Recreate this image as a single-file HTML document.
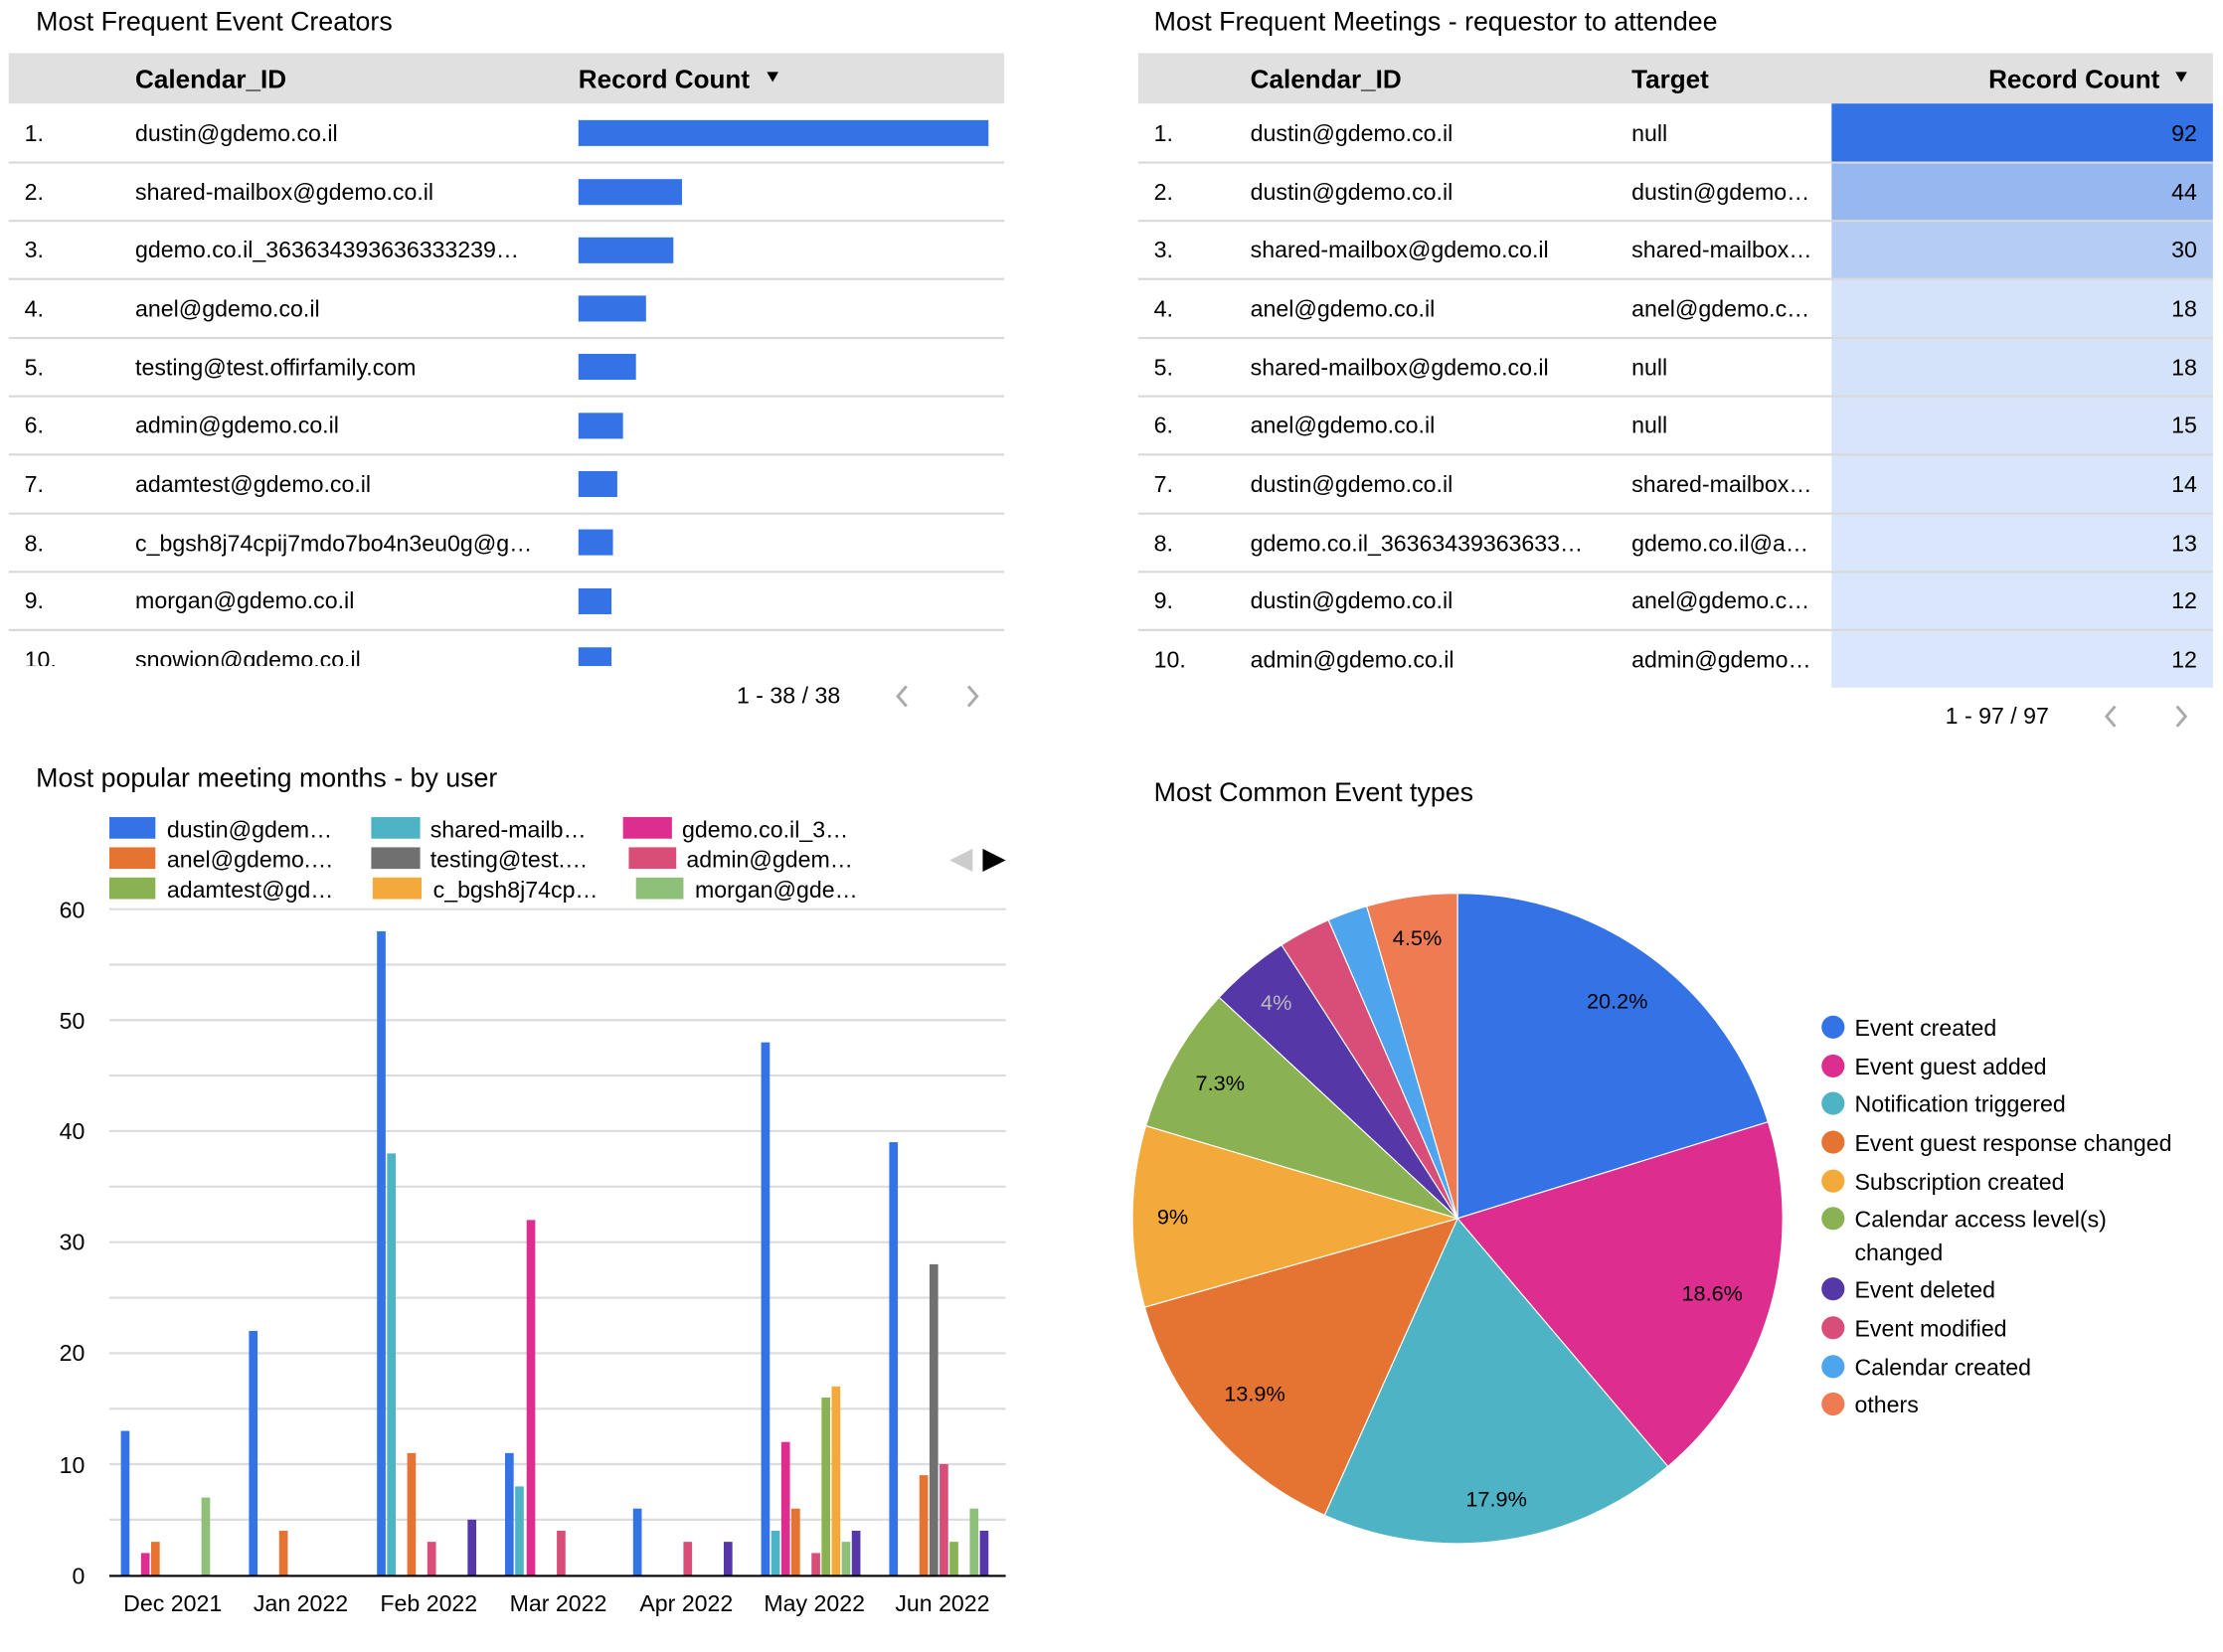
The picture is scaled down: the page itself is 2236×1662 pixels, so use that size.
<!DOCTYPE html>
<html><head><meta charset="utf-8"><style>
html,body{margin:0;padding:0;background:#fff;width:2236px;height:1662px;overflow:hidden}
svg text{font-family:"Liberation Sans",sans-serif;fill:#000}
</style></head><body>
<svg width="2236" height="1662" viewBox="0 0 1545 1148.4" xmlns="http://www.w3.org/2000/svg">
<rect width="1545" height="1149" fill="#fff"/>
<!-- LEFT TABLE -->
<text x="25" y="21" font-size="18.5">Most Frequent Event Creators</text>
<rect x="6" y="37" width="692" height="35" fill="#e0e0e0"/>
<text x="94" y="61" font-size="18" font-weight="bold">Calendar_ID</text>
<text x="402" y="61" font-size="18" font-weight="bold">Record Count</text>
<path d="M533 50 L541 50 L537 57 Z" fill="#000"/>
<g stroke="#d9d9d9" stroke-width="1.5">
<line x1="6" x2="698" y1="113" y2="113"/><line x1="6" x2="698" y1="153.5" y2="153.5"/><line x1="6" x2="698" y1="194" y2="194"/><line x1="6" x2="698" y1="235" y2="235"/><line x1="6" x2="698" y1="275.5" y2="275.5"/><line x1="6" x2="698" y1="316" y2="316"/><line x1="6" x2="698" y1="357" y2="357"/><line x1="6" x2="698" y1="397.5" y2="397.5"/><line x1="6" x2="698" y1="438" y2="438"/>
</g>
<g font-size="16">
<text x="17" y="98">1.</text><text x="94" y="98">dustin@gdemo.co.il</text>
<text x="17" y="139">2.</text><text x="94" y="139">shared-mailbox@gdemo.co.il</text>
<text x="17" y="179">3.</text><text x="94" y="179">gdemo.co.il_363634393636333239…</text>
<text x="17" y="220">4.</text><text x="94" y="220">anel@gdemo.co.il</text>
<text x="17" y="261">5.</text><text x="94" y="261">testing@test.offirfamily.com</text>
<text x="17" y="301">6.</text><text x="94" y="301">admin@gdemo.co.il</text>
<text x="17" y="342">7.</text><text x="94" y="342">adamtest@gdemo.co.il</text>
<text x="17" y="383">8.</text><text x="94" y="383">c_bgsh8j74cpij7mdo7bo4n3eu0g@g…</text>
<text x="17" y="423">9.</text><text x="94" y="423">morgan@gdemo.co.il</text>
<text x="17" y="464">10.</text><text x="94" y="464">snowion@gdemo.co.il</text>
</g>
<rect x="0" y="463" width="700" height="10" fill="#fff"/>
<g fill="#3373e6">
<rect x="402" y="83.5" width="285" height="18"/><rect x="402" y="124.5" width="72" height="18"/><rect x="402" y="165" width="66" height="18"/><rect x="402" y="205.5" width="47" height="18"/><rect x="402" y="246" width="40" height="18"/><rect x="402" y="287" width="31" height="18"/><rect x="402" y="327.5" width="27" height="18"/><rect x="402" y="368" width="24" height="18"/><rect x="402" y="409" width="23" height="18"/><rect x="402" y="450" width="23" height="13"/>
</g>
<text x="512" y="489" font-size="16">1 - 38 / 38</text>
<path d="M630 477 L624 484 L630 491" stroke="#aaa" stroke-width="2" fill="none"/>
<path d="M673 477 L679 484 L673 491" stroke="#aaa" stroke-width="2" fill="none"/>

<!-- RIGHT TABLE -->
<text x="802" y="21" font-size="18.5">Most Frequent Meetings - requestor to attendee</text>
<rect x="791" y="37" width="747" height="35" fill="#e0e0e0"/>
<text x="869" y="61" font-size="18" font-weight="bold">Calendar_ID</text>
<text x="1134" y="61" font-size="18" font-weight="bold">Target</text>
<text x="1501" y="61" font-size="18" font-weight="bold" text-anchor="end">Record Count</text>
<path d="M1512 50 L1520 50 L1516 57 Z" fill="#000"/>
<rect x="1273" y="72" width="265" height="41" fill="#3373e6"/>
<rect x="1273" y="113" width="265" height="41" fill="#97b7f1"/>
<rect x="1273" y="154" width="265" height="40" fill="#b5cdf5"/>
<rect x="1273" y="194" width="265" height="41" fill="#d4e2fa"/>
<rect x="1273" y="235" width="265" height="41" fill="#d4e2fa"/>
<rect x="1273" y="276" width="265" height="40" fill="#d7e4fa"/>
<rect x="1273" y="316" width="265" height="41" fill="#d8e5fb"/>
<rect x="1273" y="357" width="265" height="41" fill="#d9e6fb"/>
<rect x="1273" y="398" width="265" height="40" fill="#dae6fb"/>
<rect x="1273" y="438" width="265" height="40" fill="#dae6fb"/>
<g stroke="#d9d9d9" stroke-width="1.5">
<line x1="791" x2="1538" y1="113" y2="113"/><line x1="791" x2="1538" y1="153.5" y2="153.5"/><line x1="791" x2="1538" y1="194" y2="194"/><line x1="791" x2="1538" y1="235" y2="235"/><line x1="791" x2="1538" y1="275.5" y2="275.5"/><line x1="791" x2="1538" y1="316" y2="316"/><line x1="791" x2="1538" y1="357" y2="357"/><line x1="791" x2="1538" y1="397.5" y2="397.5"/><line x1="791" x2="1538" y1="438" y2="438"/>
</g>
<g font-size="16">
<text x="802" y="98">1.</text><text x="869" y="98">dustin@gdemo.co.il</text><text x="1134" y="98">null</text><text x="1527" y="98" text-anchor="end" style="fill:#000">92</text>
<text x="802" y="139">2.</text><text x="869" y="139">dustin@gdemo.co.il</text><text x="1134" y="139">dustin@gdemo…</text><text x="1527" y="139" text-anchor="end">44</text>
<text x="802" y="179">3.</text><text x="869" y="179">shared-mailbox@gdemo.co.il</text><text x="1134" y="179">shared-mailbox…</text><text x="1527" y="179" text-anchor="end">30</text>
<text x="802" y="220">4.</text><text x="869" y="220">anel@gdemo.co.il</text><text x="1134" y="220">anel@gdemo.c…</text><text x="1527" y="220" text-anchor="end">18</text>
<text x="802" y="261">5.</text><text x="869" y="261">shared-mailbox@gdemo.co.il</text><text x="1134" y="261">null</text><text x="1527" y="261" text-anchor="end">18</text>
<text x="802" y="301">6.</text><text x="869" y="301">anel@gdemo.co.il</text><text x="1134" y="301">null</text><text x="1527" y="301" text-anchor="end">15</text>
<text x="802" y="342">7.</text><text x="869" y="342">dustin@gdemo.co.il</text><text x="1134" y="342">shared-mailbox…</text><text x="1527" y="342" text-anchor="end">14</text>
<text x="802" y="383">8.</text><text x="869" y="383">gdemo.co.il_36363439363633…</text><text x="1134" y="383">gdemo.co.il@a…</text><text x="1527" y="383" text-anchor="end">13</text>
<text x="802" y="423">9.</text><text x="869" y="423">dustin@gdemo.co.il</text><text x="1134" y="423">anel@gdemo.c…</text><text x="1527" y="423" text-anchor="end">12</text>
<text x="802" y="464">10.</text><text x="869" y="464">admin@gdemo.co.il</text><text x="1134" y="464">admin@gdemo…</text><text x="1527" y="464" text-anchor="end">12</text>
</g>
<text x="1352" y="503" font-size="16">1 - 97 / 97</text>
<path d="M1470 491 L1464 498 L1470 505" stroke="#aaa" stroke-width="2" fill="none"/>
<path d="M1513 491 L1519 498 L1513 505" stroke="#aaa" stroke-width="2" fill="none"/>

<!-- BAR CHART -->
<text x="25" y="547" font-size="18.5">Most popular meeting months - by user</text>
<g font-size="16">
<rect x="76" y="568" width="32" height="15" fill="#3373e6"/><text x="116" y="582">dustin@gdem…</text>
<rect x="76" y="589" width="32" height="15" fill="#e57332"/><text x="116" y="603">anel@gdemo.…</text>
<rect x="76" y="610" width="32" height="15" fill="#8ab253"/><text x="116" y="624">adamtest@gd…</text>
<rect x="258" y="568" width="34" height="15" fill="#4fb3c6"/><text x="299" y="582">shared-mailb…</text>
<rect x="258" y="589" width="34" height="15" fill="#707070"/><text x="299" y="603">testing@test.…</text>
<rect x="259" y="610" width="34" height="15" fill="#f3aa3b"/><text x="301" y="624">c_bgsh8j74cp…</text>
<rect x="433" y="568" width="34" height="15" fill="#dd2e8f"/><text x="474" y="582">gdemo.co.il_3…</text>
<rect x="437" y="589" width="33" height="15" fill="#d94e78"/><text x="477" y="603">admin@gdem…</text>
<rect x="442" y="610" width="33" height="15" fill="#8ec07a"/><text x="483" y="624">morgan@gde…</text>
</g>
<path d="M676 590 L676 606 L660 598 Z" fill="#ccc"/>
<path d="M683 590 L683 606 L699 598 Z" fill="#000"/>
<g stroke="#dcdcdc" stroke-width="1.5">
<line x1="76" x2="699" y1="632" y2="632"/><line x1="76" x2="699" y1="670.6" y2="670.6"/><line x1="76" x2="699" y1="709.2" y2="709.2"/><line x1="76" x2="699" y1="747.7" y2="747.7"/><line x1="76" x2="699" y1="786.3" y2="786.3"/><line x1="76" x2="699" y1="824.9" y2="824.9"/><line x1="76" x2="699" y1="863.5" y2="863.5"/><line x1="76" x2="699" y1="902.1" y2="902.1"/><line x1="76" x2="699" y1="940.7" y2="940.7"/><line x1="76" x2="699" y1="979.3" y2="979.3"/><line x1="76" x2="699" y1="1017.8" y2="1017.8"/><line x1="76" x2="699" y1="1056.4" y2="1056.4"/>
</g>
<g font-size="16" text-anchor="end">
<text x="59" y="638">60</text><text x="59" y="715">50</text><text x="59" y="792">40</text><text x="59" y="869">30</text><text x="59" y="946">20</text><text x="59" y="1024">10</text><text x="59" y="1101">0</text>
</g>
<g>
<rect x="84" y="994.7" width="6" height="100.3" fill="#3373e6"/><rect x="98" y="1079.6" width="6" height="15.4" fill="#dd2e8f"/><rect x="105" y="1071.8" width="6" height="23.2" fill="#e57332"/><rect x="140" y="1041" width="6" height="54" fill="#8ec07a"/>
<rect x="173" y="925.2" width="6" height="169.8" fill="#3373e6"/><rect x="194" y="1064.1" width="6" height="30.9" fill="#e57332"/>
<rect x="262" y="647.4" width="6" height="447.6" fill="#3373e6"/><rect x="269" y="801.8" width="6" height="293.2" fill="#4fb3c6"/><rect x="283" y="1010.1" width="6" height="84.9" fill="#e57332"/><rect x="297" y="1071.8" width="6" height="23.2" fill="#d94e78"/><rect x="325" y="1056.4" width="6" height="38.6" fill="#5637a7"/>
<rect x="351" y="1010.1" width="6" height="84.9" fill="#3373e6"/><rect x="358" y="1033.3" width="6" height="61.7" fill="#4fb3c6"/><rect x="366" y="848.1" width="6" height="246.9" fill="#dd2e8f"/><rect x="387" y="1064.1" width="6" height="30.9" fill="#d94e78"/>
<rect x="440" y="1048.7" width="6" height="46.3" fill="#3373e6"/><rect x="475" y="1071.8" width="6" height="23.2" fill="#d94e78"/><rect x="503" y="1071.8" width="6" height="23.2" fill="#5637a7"/>
<rect x="529" y="724.6" width="6" height="370.4" fill="#3373e6"/><rect x="536" y="1064.1" width="6" height="30.9" fill="#4fb3c6"/><rect x="543" y="1002.4" width="6" height="92.6" fill="#dd2e8f"/><rect x="550" y="1048.7" width="6" height="46.3" fill="#e57332"/><rect x="564" y="1079.6" width="6" height="15.4" fill="#d94e78"/><rect x="571" y="971.5" width="6" height="123.5" fill="#8ab253"/><rect x="578" y="963.8" width="6" height="131.2" fill="#f3aa3b"/><rect x="585" y="1071.8" width="6" height="23.2" fill="#8ec07a"/><rect x="592" y="1064.1" width="6" height="30.9" fill="#5637a7"/>
<rect x="618" y="794" width="6" height="301" fill="#3373e6"/><rect x="639" y="1025.5" width="6" height="69.5" fill="#e57332"/><rect x="646" y="878.9" width="6" height="216.1" fill="#707070"/><rect x="653" y="1017.8" width="6" height="77.2" fill="#d94e78"/><rect x="660" y="1071.8" width="6" height="23.2" fill="#8ab253"/><rect x="674" y="1048.7" width="6" height="46.3" fill="#8ec07a"/><rect x="681" y="1064.1" width="6" height="30.9" fill="#5637a7"/>
</g>
<line x1="76" x2="699" y1="1095.5" y2="1095.5" stroke="#000" stroke-width="1.5"/>
<g font-size="16" text-anchor="middle">
<text x="120" y="1120">Dec 2021</text><text x="209" y="1120">Jan 2022</text><text x="298" y="1120">Feb 2022</text><text x="388" y="1120">Mar 2022</text><text x="477" y="1120">Apr 2022</text><text x="566" y="1120">May 2022</text><text x="655" y="1120">Jun 2022</text>
</g>

<!-- PIE -->
<text x="802" y="557" font-size="18.5">Most Common Event types</text>
<g stroke="#fff" stroke-width="0.8">
<path d="M1013 847 L1013 621 A226 226 0 0 1 1228.8 779.9 Z" fill="#3373e6"/>
<path d="M1013 847 L1228.8 779.9 A226 226 0 0 1 1159.2 1019.4 Z" fill="#dd2e8f"/>
<path d="M1013 847 L1159.2 1019.4 A226 226 0 0 1 920.6 1053.3 Z" fill="#4fb3c6"/>
<path d="M1013 847 L920.6 1053.3 A226 226 0 0 1 795.6 908.7 Z" fill="#e57332"/>
<path d="M1013 847 L795.6 908.7 A226 226 0 0 1 796.4 782.6 Z" fill="#f3aa3b"/>
<path d="M1013 847 L796.4 782.6 A226 226 0 0 1 847.3 693.3 Z" fill="#8ab253"/>
<path d="M1013 847 L847.3 693.3 A226 226 0 0 1 890.7 656.9 Z" fill="#5637a7"/>
<path d="M1013 847 L890.7 656.9 A226 226 0 0 1 923.3 639.6 Z" fill="#d94e78"/>
<path d="M1013 847 L923.3 639.6 A226 226 0 0 1 949.9 630 Z" fill="#4ea5ee"/>
<path d="M1013 847 L949.9 630 A226 226 0 0 1 1013 621 Z" fill="#ee7b52"/>
</g>
<g font-size="15" text-anchor="middle">
<text x="1124" y="701">20.2%</text><text x="1190" y="904">18.6%</text><text x="1040" y="1047">17.9%</text><text x="872" y="974">13.9%</text><text x="815" y="851">9%</text><text x="848" y="758">7.3%</text><text x="887" y="702" style="fill:#bbb">4%</text><text x="985" y="657">4.5%</text>
</g>
<g font-size="16">
<circle cx="1274" cy="714" r="8" fill="#3373e6"/><text x="1289" y="720">Event created</text>
<circle cx="1274" cy="741" r="8" fill="#dd2e8f"/><text x="1289" y="747">Event guest added</text>
<circle cx="1274" cy="767" r="8" fill="#4fb3c6"/><text x="1289" y="773">Notification triggered</text>
<circle cx="1274" cy="794" r="8" fill="#e57332"/><text x="1289" y="800">Event guest response changed</text>
<circle cx="1274" cy="821" r="8" fill="#f3aa3b"/><text x="1289" y="827">Subscription created</text>
<circle cx="1274" cy="847" r="8" fill="#8ab253"/><text x="1289" y="853">Calendar access level(s)</text><text x="1289" y="876">changed</text>
<circle cx="1274" cy="896" r="8" fill="#5637a7"/><text x="1289" y="902">Event deleted</text>
<circle cx="1274" cy="923" r="8" fill="#d94e78"/><text x="1289" y="929">Event modified</text>
<circle cx="1274" cy="950" r="8" fill="#4ea5ee"/><text x="1289" y="956">Calendar created</text>
<circle cx="1274" cy="976" r="8" fill="#ee7b52"/><text x="1289" y="982">others</text>
</g>
</svg>
</body></html>
